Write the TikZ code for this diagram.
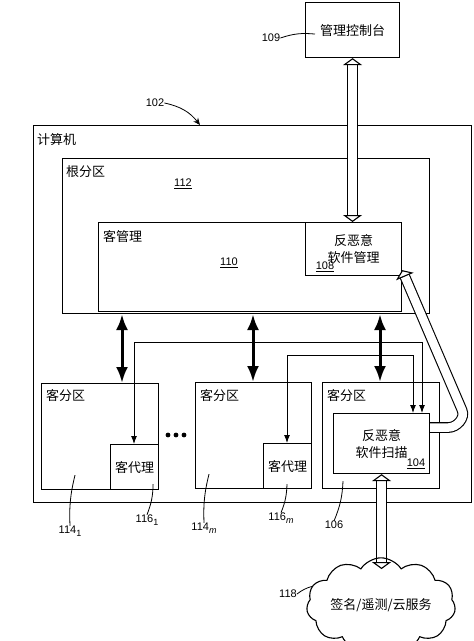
\documentclass[tikz,border=0pt]{standalone}
\usepackage{fontspec}
\setmainfont{Liberation Sans}
\newfontfamily\cjk{Noto Sans CJK SC}
\usetikzlibrary{arrows.meta,shapes.symbols}

\newcommand{\lowidx}[1]{\raisebox{-2.5pt}{\fontsize{9}{9}\selectfont #1}}

\tikzset{
    box/.style={draw, line width=1.1pt, inner sep=0pt, anchor=north west},
    zh/.style={font=\cjk\fontsize{13}{17}\selectfont, inner sep=0pt, align=center},
    num/.style={font=\fontsize{11}{13}\selectfont, inner sep=0pt},
    bus/.style={line width=3pt, {Latex[length=16pt,width=12pt]}-{Latex[length=16pt,width=12pt]}},
    link/.style={line width=1pt, {Latex[length=8pt,width=6pt]}-{Latex[length=8pt,width=6pt]}},
    pipe/.style={double, double distance=8.5pt, line width=1.1pt},
    lead/.style={line width=0.8pt},
    hollow/.tip={Triangle[fill=white, length=7pt, width=19pt, line width=1.1pt]},
}

\begin{document}
\begin{tikzpicture}[x=1pt, y=-1pt]
    \useasboundingbox (0,0) rectangle (474,641);

    % Management console
    \node[box, zh, minimum width=94pt, minimum height=55pt] (console) at (305,2) {管理控制台};
    \node[num] (n109) at (271,38) {109};
    \draw[lead] (n109.east) to[bend left=12] ([shift={(10pt,-4pt)}]console.west);

    % Computer
    \node[box, minimum width=438pt, minimum height=377pt] (computer) at (33,125) {};
    \node[zh, anchor=west] (computertxt) at (37,140) {计算机};
    \node[num] (n102) at (155,103) {102};
    \draw[lead, -{Stealth[length=7pt,width=6pt]}] (n102.east) to[bend left=20] ([xshift=167pt]computer.north west);

    % Root partition
    \node[box, minimum width=367pt, minimum height=155pt] (root) at (62,158) {};
    \node[zh, anchor=west] (roottxt) at (66,172) {根分区};
    \node[num] (n112) at (183,184) {\underline{112}};

    % Guest management and antimalware management
    \node[box, minimum width=303pt, minimum height=89pt] (gmgmt) at (98,222) {};
    \node[zh, anchor=west] (gmgmttxt) at (103,237) {客管理};
    \node[num] (n110) at (229,263) {\underline{110}};
    \node[box, zh, minimum width=96pt, minimum height=53pt] (amm) at (305,222) {反恶意\\软件管理};
    \node[num] (n108) at (325,267) {\underline{108}};

    % Guest partitions
    \node[box, minimum width=117pt, minimum height=106pt] (gp1) at (41,383) {};
    \node[zh, anchor=west] (gp1txt) at (46,396) {客分区};
    \node[box, zh, minimum width=48pt, minimum height=45pt] (ga1) at (110,444) {客代理};
    \node[box, minimum width=116pt, minimum height=106pt] (gpm) at (195,382) {};
    \node[zh, anchor=west] (gpmtxt) at (200,396) {客分区};
    \node[box, zh, minimum width=48pt, minimum height=45pt] (gam) at (263,443) {客代理};
    \node[box, minimum width=117pt, minimum height=106pt] (gp3) at (322,382) {};
    \node[zh, anchor=west] (gp3txt) at (327,396) {客分区};
    \node[box, zh, minimum width=96pt, minimum height=60pt] (scan) at (333,413) {反恶意\\软件扫描};
    \node[num] (n104) at (416,464) {\underline{104}};
    \foreach \x in {168,176,184}
        \fill (\x,435) circle (2.4pt);

    % Buses between root partition and guests
    \draw[bus] ([xshift=81pt]gp1.north west |- root.south) -- ([xshift=81pt]gp1.north west);
    \draw[bus] ([xshift=58pt]gpm.north west |- root.south) -- ([xshift=58pt]gpm.north west);
    \draw[bus] ([xshift=58pt]gp3.north west |- root.south) -- ([xshift=58pt]gp3.north west);

    % Scanner to guest agents
    \draw[link] ([xshift=24pt]ga1.north west) -- ++(0,-102) -| ([xshift=89pt]scan.north west);
    \draw[link] ([xshift=24pt]gam.north west) -- ++(0,-88) -| ([xshift=80pt]scan.north west);

    % Hollow channels
    \draw[pipe, hollow-hollow] (console.south) -- (console.south |- amm.north);
    \draw[pipe, -hollow] ([yshift=16pt]scan.east) -- ++(18,0) to[out=0, in=-66] (462,410) -- ([yshift=6pt]amm.south east);
    \draw[pipe, hollow-hollow] (scan.south) -- ++(0,95);

    % Cloud
    \node[cloud, draw, line width=1.1pt, zh, cloud puffs=11, cloud puff arc=115, aspect=1.9,
          minimum width=131pt, minimum height=70pt, inner sep=0pt] (cloud) at (381,605) {签名/遥测/云服务};
    \node[num] (n118) at (288,594) {118};
    \draw[lead] (n118.east) to[bend left=10] (cloud.165);

    % Reference numerals below the guests
    \node[num] (n1141) at (70,531) {114\lowidx{1}};
    \draw[lead] (n1141.north) to[bend left=8] ([shift={(34pt,15pt)}]gp1.south west);
    \node[num] (n1161) at (147,520) {116\lowidx{1}};
    \draw[lead] (n1161.north) to[bend right=10] ([shift={(-6pt,6pt)}]ga1.south east);
    \node[num] (n114m) at (204,528) {114\lowidx{\itshape m}};
    \draw[lead] (n114m.north) to[bend left=8] ([shift={(14pt,15pt)}]gpm.south west);
    \node[num] (n116m) at (281,518) {116\lowidx{\itshape m}};
    \draw[lead] (n116m.north) to[bend right=10] ([shift={(24pt,5pt)}]gam.south west);
    \node[num] (n106) at (334,525) {106};
    \draw[lead] (n106.north) to[bend right=10] ([shift={(21pt,8pt)}]gp3.south west);
\end{tikzpicture}
\end{document}
